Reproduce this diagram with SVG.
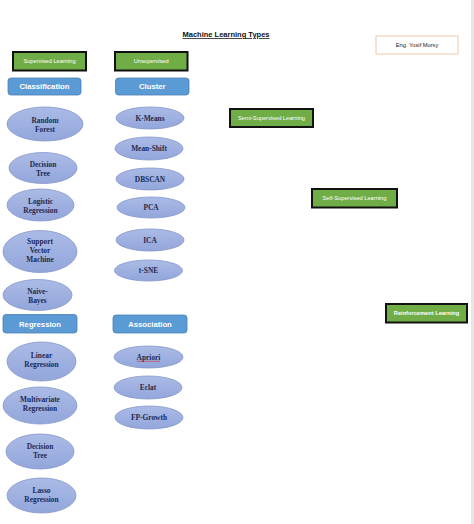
<svg xmlns="http://www.w3.org/2000/svg" width="474" height="524" viewBox="0 0 474 524">
<defs>
<linearGradient id="eg" x1="0" y1="0" x2="0" y2="1">
<stop offset="0" stop-color="#abbbe6"/>
<stop offset="1" stop-color="#93a6db"/>
</linearGradient>
<style>
.ttl{font-family:"Liberation Sans",Arial,sans-serif;font-size:7.5px;font-weight:bold;fill:#111;text-decoration:underline}
.gr rect{fill:#70ad47;stroke:#111;stroke-width:2}
.gr text{font-family:"Liberation Sans",Arial,sans-serif;font-size:5.7px;fill:#fff;text-anchor:middle}
.bl rect{fill:#5b9bd5;stroke:#4a7fb5;stroke-width:0.8}
.bl text{font-family:"Liberation Sans",Arial,sans-serif;font-size:7.7px;font-weight:bold;fill:#fff;text-anchor:middle}
.el ellipse{fill:url(#eg);stroke:#8597cc;stroke-width:0.8}
.el text{font-family:"Liberation Serif","Times New Roman",serif;font-size:7.4px;font-weight:bold;fill:#1e2a50;text-anchor:middle}
.au rect{fill:#fff;stroke:#f0c8a8;stroke-width:1}
.au text{font-family:"Liberation Sans",Arial,sans-serif;font-size:5.7px;fill:#222;text-anchor:middle}
</style>
</defs>
<rect width="474" height="524" fill="#fff"/>
<rect x="471" y="0" width="3" height="524" fill="#e6e6e6"/>
<text class="ttl" x="226" y="37" text-anchor="middle">Machine Learning Types</text>
<g id="author" class="au"><rect x="376" y="36" width="82" height="18"/><text x="417" y="47">Eng. Yusif Morsy</text></g>

<g id="supervised" class="gr"><rect x="13" y="52" width="73" height="18.5"/><text x="49.5" y="63">Supervised Learning</text></g>
<g id="unsupervised" class="gr"><rect x="115" y="52" width="72.5" height="18.5"/><text x="151.25" y="63">Unsupervised</text></g>
<g id="semi" class="gr"><rect x="230" y="109" width="83" height="18"/><text x="271.5" y="120">Semi-Supervised Learning</text></g>
<g id="self" class="gr"><rect x="312" y="189" width="85" height="18.5"/><text x="354.5" y="200">Self-Supervised Learning</text></g>
<g id="reinforcement" class="gr"><rect x="386" y="304" width="81" height="18.5"/><text x="426.5" y="315" font-weight="bold">Reinforcement Learning</text></g>

<g id="classification" class="bl"><rect x="8" y="78" width="73" height="17" rx="3"/><text x="44.5" y="89.4">Classification</text></g>
<g id="cluster" class="bl"><rect x="115.5" y="78" width="73.5" height="17" rx="3"/><text x="152.25" y="89.4">Cluster</text></g>
<g id="regression" class="bl"><rect x="3" y="314.5" width="74" height="18.5" rx="3"/><text x="40" y="326.6">Regression</text></g>
<g id="association" class="bl"><rect x="113" y="315" width="74" height="18" rx="3"/><text x="150" y="326.8">Association</text></g>

<g id="random-forest" class="el"><ellipse cx="45" cy="124" rx="38" ry="17"/><text x="45" y="122.5">Random</text><text x="45" y="131.5">Forest</text></g>
<g id="decision-tree-c" class="el"><ellipse cx="43" cy="168" rx="34" ry="15.5"/><text x="43" y="166.5">Decision</text><text x="43" y="175.5">Tree</text></g>
<g id="logistic" class="el"><ellipse cx="40.5" cy="205" rx="33.5" ry="16"/><text x="40.5" y="203.5">Logistic</text><text x="40.5" y="212.5">Regression</text></g>
<g id="svm" class="el"><ellipse cx="40" cy="251.5" rx="37" ry="21"/><text x="40" y="244">Support</text><text x="40" y="253">Vector</text><text x="40" y="262">Machine</text></g>
<g id="naive-bayes" class="el"><ellipse cx="37.5" cy="295" rx="34.5" ry="15.5"/><text x="37.5" y="293.5">Naive-</text><text x="37.5" y="302.5">Bayes</text></g>

<g id="k-means" class="el"><ellipse cx="150" cy="118" rx="34" ry="11"/><text x="150" y="120.5">K-Means</text></g>
<g id="mean-shift" class="el"><ellipse cx="149" cy="148.5" rx="34" ry="11.5"/><text x="149" y="151">Mean-Shift</text></g>
<g id="dbscan" class="el"><ellipse cx="150" cy="179" rx="34" ry="11"/><text x="150" y="181.5">DBSCAN</text></g>
<g id="pca" class="el"><ellipse cx="151" cy="207.5" rx="34" ry="10.5"/><text x="151" y="210">PCA</text></g>
<g id="ica" class="el"><ellipse cx="150" cy="240" rx="34" ry="11"/><text x="150" y="242.5">ICA</text></g>
<g id="t-sne" class="el"><ellipse cx="148.5" cy="270.5" rx="34" ry="10.5"/><text x="148.5" y="273">t-SNE</text></g>

<g id="linear" class="el"><ellipse cx="41.5" cy="361.5" rx="34.5" ry="19.5"/><text x="41.5" y="358">Linear</text><text x="41.5" y="367">Regression</text></g>
<g id="multivariate" class="el"><ellipse cx="40" cy="405.5" rx="37" ry="18.5"/><text x="40" y="402">Multivariate</text><text x="40" y="411">Regression</text></g>
<g id="decision-tree-r" class="el"><ellipse cx="40" cy="451.5" rx="34" ry="17.5"/><text x="40" y="449">Decision</text><text x="40" y="458">Tree</text></g>
<g id="lasso" class="el"><ellipse cx="41.5" cy="495.5" rx="34.5" ry="17.5"/><text x="41.5" y="493">Lasso</text><text x="41.5" y="502">Regression</text></g>

<g id="apriori" class="el"><ellipse cx="148.5" cy="357" rx="34.5" ry="11"/><text x="148.5" y="359.5">Apriori</text><line x1="137" y1="361.3" x2="160" y2="361.3" stroke="#d03030" stroke-width="0.6"/></g>
<g id="eclat" class="el"><ellipse cx="148" cy="387.5" rx="34" ry="11.5"/><text x="148" y="390">Eclat</text></g>
<g id="fp-growth" class="el"><ellipse cx="149" cy="417.5" rx="34" ry="11.5"/><text x="149" y="420">FP-Growth</text></g>

<g id="connectors"></g>
</svg>
